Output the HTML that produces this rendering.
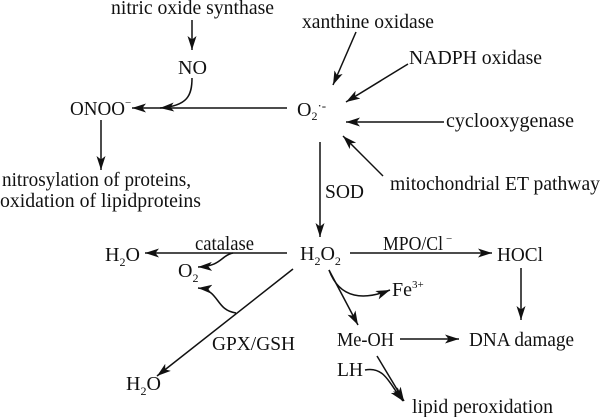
<!DOCTYPE html>
<html><head><meta charset="utf-8"><style>
html,body{margin:0;padding:0;background:#fff;}
svg{display:block;}
text{font-family:"Liberation Serif",serif;font-size:20px;fill:#111;}
</style></head><body>
<svg width="600" height="417" viewBox="0 0 600 417" xmlns="http://www.w3.org/2000/svg">
<defs>
<marker id="a" viewBox="0 0 14 9" refX="14" refY="4.5" markerWidth="14" markerHeight="9" markerUnits="userSpaceOnUse" orient="auto">
<path d="M0,0 L14,4.5 L0,9 L3.5,4.5 Z" fill="#111"/>
</marker>
</defs>
<g stroke="#111" stroke-width="1.5" fill="none">
<line x1="192" y1="20" x2="192" y2="50" marker-end="url(#a)"/>
<path d="M192,78 C192,95 188,106 160,108" marker-end="url(#a)"/>
<line x1="287" y1="108" x2="132" y2="108" marker-end="url(#a)"/>
<line x1="101" y1="120" x2="101" y2="170" marker-end="url(#a)"/>
<line x1="356" y1="32" x2="333" y2="85" marker-end="url(#a)"/>
<line x1="408" y1="64" x2="346" y2="102" marker-end="url(#a)"/>
<line x1="444" y1="122" x2="346" y2="122" marker-end="url(#a)"/>
<line x1="383" y1="176" x2="343" y2="136" marker-end="url(#a)"/>
<line x1="320" y1="142" x2="320" y2="237" marker-end="url(#a)"/>
<line x1="287" y1="253" x2="145" y2="253" marker-end="url(#a)"/>
<path d="M233,253 C220,256 222,266 198,267" marker-end="url(#a)"/>
<path d="M236,313 C215,310 220,290 198,288" marker-end="url(#a)"/>
<line x1="293" y1="269" x2="157" y2="376" marker-end="url(#a)"/>
<line x1="350" y1="253" x2="492" y2="253" marker-end="url(#a)"/>
<line x1="521" y1="268" x2="521" y2="320" marker-end="url(#a)"/>
<path d="M329,270 C340,300 365,300 390,290" marker-end="url(#a)"/>
<line x1="329" y1="270" x2="358" y2="325" marker-end="url(#a)"/>
<line x1="400" y1="339" x2="459" y2="339" marker-end="url(#a)"/>
<line x1="377" y1="356" x2="404" y2="401" marker-end="url(#a)"/>
<path d="M365,370 C385,366 390,385 403,401" marker-end="url(#a)"/>
</g>
<text x="111" y="14" textLength="163" lengthAdjust="spacingAndGlyphs">nitric oxide synthase</text>
<text x="178" y="74" textLength="29" lengthAdjust="spacingAndGlyphs">NO</text>
<text x="70" y="115" textLength="55" lengthAdjust="spacingAndGlyphs">ONOO</text>
<text x="125" y="106" style="font-size:11px">−</text>
<text x="297" y="116">O<tspan dy="4" style="font-size:12px">2</tspan><tspan dy="-10" style="font-size:13px">·-</tspan></text>
<text x="302" y="28" textLength="132" lengthAdjust="spacingAndGlyphs">xanthine oxidase</text>
<text x="409" y="64" textLength="133" lengthAdjust="spacingAndGlyphs">NADPH oxidase</text>
<text x="446" y="127" textLength="128" lengthAdjust="spacingAndGlyphs">cyclooxygenase</text>
<text x="390" y="190" textLength="210" lengthAdjust="spacingAndGlyphs">mitochondrial ET pathway</text>
<text x="325" y="198" textLength="39" lengthAdjust="spacingAndGlyphs">SOD</text>
<text x="2" y="186" textLength="189" lengthAdjust="spacingAndGlyphs">nitrosylation of proteins,</text>
<text x="0" y="207" textLength="201" lengthAdjust="spacingAndGlyphs">oxidation of lipidproteins</text>
<text x="105" y="261">H<tspan dy="5" style="font-size:12px">2</tspan><tspan dy="-5">O</tspan></text>
<text x="195" y="250" textLength="59" lengthAdjust="spacingAndGlyphs">catalase</text>
<text x="300" y="260">H<tspan dy="5" style="font-size:12px">2</tspan><tspan dy="-5">O</tspan><tspan dy="5" style="font-size:12px">2</tspan></text>
<text x="383" y="250" textLength="60" lengthAdjust="spacingAndGlyphs">MPO/Cl</text>
<text x="446" y="242" style="font-size:11px">−</text>
<text x="497" y="261" textLength="46" lengthAdjust="spacingAndGlyphs">HOCl</text>
<text x="178" y="277">O<tspan dy="5" style="font-size:12px">2</tspan></text>
<text x="392" y="296">Fe<tspan dy="-8" style="font-size:11px">3+</tspan></text>
<text x="212" y="350" textLength="83" lengthAdjust="spacingAndGlyphs">GPX/GSH</text>
<text x="337" y="346" textLength="57" lengthAdjust="spacingAndGlyphs">Me-OH</text>
<text x="469" y="346" textLength="105" lengthAdjust="spacingAndGlyphs">DNA damage</text>
<text x="126" y="390">H<tspan dy="5" style="font-size:12px">2</tspan><tspan dy="-5">O</tspan></text>
<text x="337" y="376" textLength="26" lengthAdjust="spacingAndGlyphs">LH</text>
<text x="412" y="413" textLength="141" lengthAdjust="spacingAndGlyphs">lipid peroxidation</text>
</svg>
</body></html>
